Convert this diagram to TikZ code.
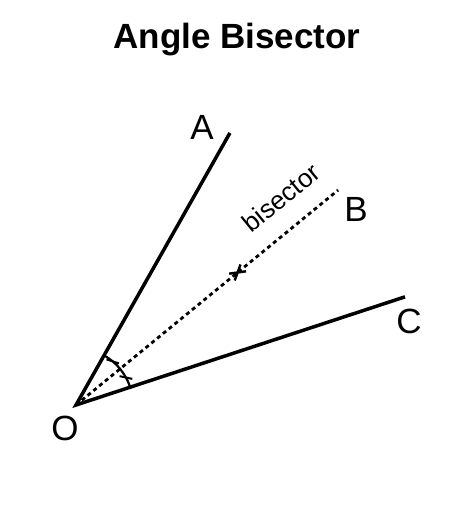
\documentclass[tikz,border=0pt]{standalone}
\usepackage{fontspec}
\setmainfont{Liberation Sans}
\usetikzlibrary{calc,positioning}

\tikzset{
	ray/.style={line width=3.5pt,line join=miter},
	bisect/.style={line width=2.8pt,dash pattern=on 4pt off 3.5pt},
	tickline/.style={line width=2pt},
	lbl/.style={font=\fontsize{35}{35}\selectfont,inner sep=0pt},
}

\begin{document}
\begin{tikzpicture}[x=1pt,y=1pt]
	\useasboundingbox (0,0) rectangle (474,505);
	\node[font=\bfseries\fontsize{35}{35}\selectfont,anchor=base] (title) at (237,456.3) {Angle Bisector};
	\coordinate (O) at (76,100);
	\coordinate (A) at ($(O)+(60.5:312.6)$);
	\coordinate (B) at ($(O)+(39.35:339)$);
	\coordinate (C) at ($(O)+(18.2:346.3)$);
	\coordinate (X) at ($(O)+(39.35:209)$);
	\draw[ray] (A) -- (O) -- (C);
	\draw[bisect] (O) -- (B);
	\draw[line width=2.2pt] ($(O)+(60.5:57)$) arc (60.5:18.2:57);
	% tick marks on the arc
	\coordinate (t1) at ($(O)+(49.9:57)$);
	\coordinate (t2) at ($(O)+(28.8:57)$);
	\draw[tickline] ($(t1)+(-18:-6.5)$) -- ($(t1)+(-18:6.5)$);
	\draw[tickline] ($(t2)+(-12:-6.5)$) -- ($(t2)+(-12:6.5)$);
	% cross on the bisector
	\draw[tickline,line width=2.4pt] ($(X)+(8:-8.5)$) -- ($(X)+(8:8.5)$);
	\draw[tickline,line width=2.4pt] ($(X)+(70:-8.5)$) -- ($(X)+(70:8.5)$);
	\node[lbl] (la) at (202,377.5) {A};
	\node[lbl] (lb) at (356,296) {B};
	\node[lbl] (lc) at (409,183.5) {C};
	\node[lbl] (lo) at (65,76.5) {O};
	\node[font=\fontsize{26}{26}\selectfont,rotate=39.35,anchor=base,inner sep=0pt] (bis) at ($(O)+(39.35:290)+(129.35:21)$) {bisector};
\end{tikzpicture}
\end{document}
